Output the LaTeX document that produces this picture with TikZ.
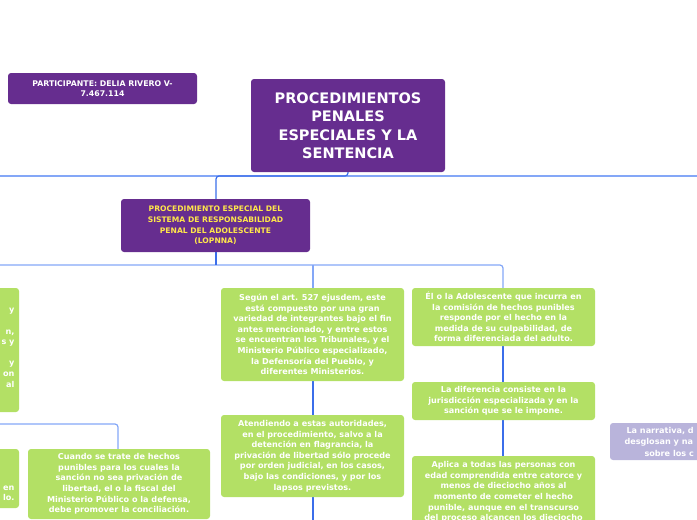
\documentclass[tikz,border=0pt]{standalone}
\usepackage{fontspec}
\setmainfont{DejaVu Sans}
\begin{document}
\begin{tikzpicture}[x=1pt,y=-1pt,
  purp/.style={fill=purp,rounded corners=3pt},
  grn/.style={fill=grn,rounded corners=3pt},
  gtxt/.style={text=white,font=\bfseries\fontsize{8.1}{10.6}\selectfont,align=center},
  ln/.style={draw=lb,line width=1.2pt,rounded corners=3pt},
  dk/.style={draw=db,line width=1.2pt,rounded corners=3pt}]
\definecolor{purp}{HTML}{662D8F}
\definecolor{grn}{HTML}{B3E065}
\definecolor{lav}{HTML}{B9B4DB}
\definecolor{lb}{HTML}{84A7F7}
\definecolor{db}{HTML}{3B6EEA}
\definecolor{ylw}{HTML}{FFE74A}
\useasboundingbox (0,0) rectangle (697,520);
\clip (0,0) rectangle (697,520);
% lines
\draw[ln] (0,176) -- (697,176);
\draw[ln] (0,265) -- (503,265) -- (503,288);
\draw[ln] (313,265) -- (313,288);
\draw[ln] (0,424) -- (118,424) -- (118,449);
\draw[dk] (348,172) -- (348,176) -- (216,176) -- (216,199);
\draw[dk] (216,252) -- (216,265);
\draw[dk] (313,381) -- (313,520);
\draw[dk] (503,346) -- (503,456);
% boxes
\fill[purp] (8,73) rectangle (197,104);
\node[text=white,font=\bfseries\fontsize{7.8}{10.6}\selectfont,align=center] (part) at (102.5,88.5) {PARTICIPANTE: DELIA RIVERO V-\\7.467.114};
\fill[purp] (251,79) rectangle (445,172);
\node[text=white,font=\bfseries\fontsize{14.5}{18.5}\selectfont,align=center] (main) at (348,125.5) {PROCEDIMIENTOS\\PENALES\\ESPECIALES Y LA\\SENTENCIA};
\fill[purp] (121,199) rectangle (310,252);
\node[text=ylw,font=\bfseries\fontsize{7.6}{10.6}\selectfont,align=center] (lop) at (215.5,225.5) {PROCEDIMIENTO ESPECIAL DEL\\SISTEMA DE RESPONSABILIDAD\\PENAL DEL ADOLESCENTE\\(LOPNNA)};
\fill[grn] (-20,288) rectangle (19,412);
\node[gtxt,align=right,anchor=north east] (l1) at (18,305) {y\\[10.6pt]n,\\s y\\[10.6pt]y\\on\\al};
\fill[grn] (-20,449) rectangle (19,508);
\node[gtxt,align=right,anchor=north east] (l2) at (18,482) {en\\lo.};
\fill[grn] (28,449) rectangle (210,519);
\node[gtxt] (c1) at (119,484) {Cuando se trate de hechos\\punibles para los cuales la\\sanción no sea privación de\\libertad, el o la fiscal del\\Ministerio Público o la defensa,\\debe promover la conciliación.};
\fill[grn] (221,288) rectangle (404,381);
\node[gtxt] (m1) at (312.5,334.5) {Según el art. 527 ejusdem, este\\está compuesto por una gran\\variedad de integrantes bajo el fin\\antes mencionado, y entre estos\\se encuentran los Tribunales, y el\\Ministerio Público especializado,\\la Defensoría del Pueblo, y\\diferentes Ministerios.};
\fill[grn] (221,415) rectangle (404,497);
\node[gtxt] (m2) at (312.5,456) {Atendiendo a estas autoridades,\\en el procedimiento, salvo a la\\detención en flagrancia, la\\privación de libertad sólo procede\\por orden judicial, en los casos,\\bajo las condiciones, y por los\\lapsos previstos.};
\fill[grn] (412,288) rectangle (595,346);
\node[gtxt] (r1) at (503.5,317) {Él o la Adolescente que incurra en\\la comisión de hechos punibles\\responde por el hecho en la\\medida de su culpabilidad, de\\forma diferenciada del adulto.};
\fill[grn] (412,382) rectangle (595,420);
\node[gtxt] (r2) at (503.5,401) {La diferencia consiste en la\\jurisdicción especializada y en la\\sanción que se le impone.};
\fill[grn] (412,456) rectangle (595,540);
\node[gtxt,anchor=north] (r3) at (503.5,458) {Aplica a todas las personas con\\edad comprendida entre catorce y\\menos de dieciocho años al\\momento de cometer el hecho\\punible, aunque en el transcurso\\del proceso alcancen los dieciocho};
\fill[lav,rounded corners=3pt] (610,423) rectangle (720,460);
\node[gtxt,anchor=west] (n1) at (623,431) {La narrativa, d};
\node[gtxt,anchor=west] (n2) at (621,442) {desglosan y na};
\node[gtxt,anchor=west] (n3) at (641,453) {sobre los c};
\end{tikzpicture}
\end{document}
